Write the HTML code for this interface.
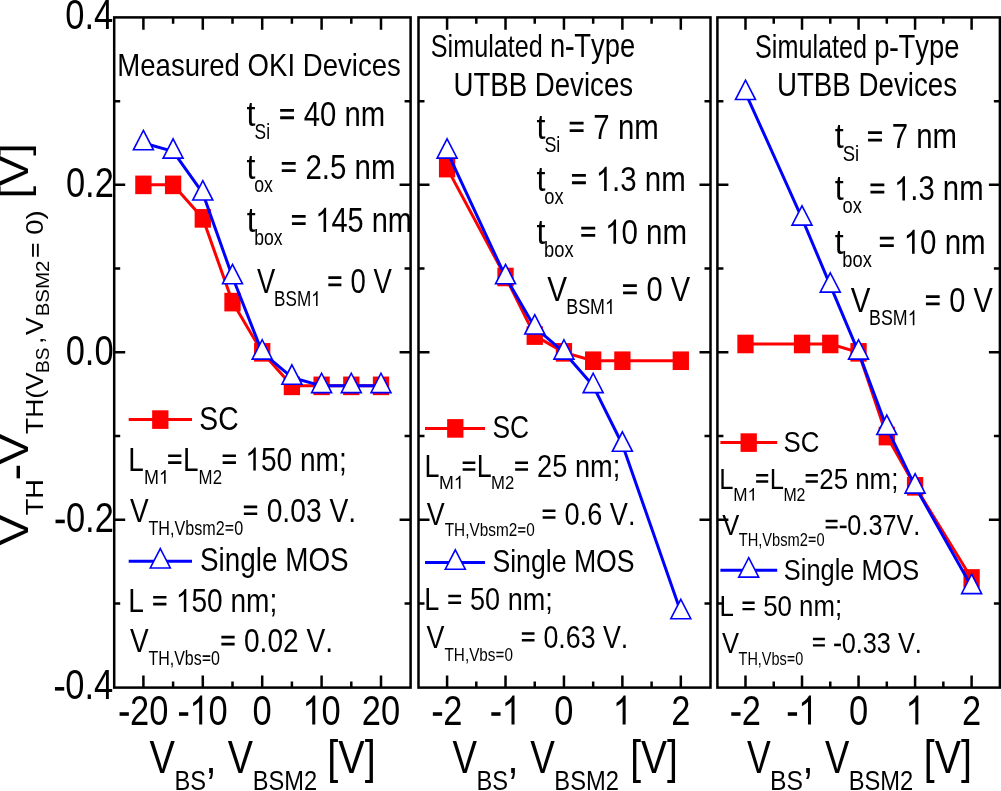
<!DOCTYPE html>
<html><head><meta charset="utf-8"><style>
html,body{margin:0;padding:0;background:#fff;}
svg{display:block;will-change:transform;}
text{font-family:"Liberation Sans", sans-serif;fill:#000;font-kerning:none;white-space:pre;}
</style></head><body>
<svg width="1001" height="791" viewBox="0 0 1001 791">
<rect width="1001" height="791" fill="#fff"/>
<rect x="114.20" y="17.40" width="296.40" height="670.20" fill="none" stroke="#000" stroke-width="2.50"/>
<path d="M143.40 17.40V29.80M143.40 687.60V675.60M202.80 17.40V29.80M202.80 687.60V675.60M262.20 17.40V29.80M262.20 687.60V675.60M321.60 17.40V29.80M321.60 687.60V675.60M381.00 17.40V29.80M381.00 687.60V675.60M173.10 17.40V23.80M173.10 687.60V681.60M232.50 17.40V23.80M232.50 687.60V681.60M291.90 17.40V23.80M291.90 687.60V681.60M351.30 17.40V23.80M351.30 687.60V681.60M114.20 184.87H125.20M410.60 184.87H399.60M114.20 352.35H125.20M410.60 352.35H399.60M114.20 519.83H125.20M410.60 519.83H399.60M114.20 101.13H120.20M410.60 101.13H404.60M114.20 268.61H120.20M410.60 268.61H404.60M114.20 436.09H120.20M410.60 436.09H404.60M114.20 603.57H120.20M410.60 603.57H404.60" stroke="#000" stroke-width="2.50" fill="none"/>
<rect x="418.50" y="17.40" width="292.00" height="670.20" fill="none" stroke="#000" stroke-width="2.50"/>
<path d="M447.09 17.40V29.80M447.09 687.60V675.60M505.52 17.40V29.80M505.52 687.60V675.60M563.95 17.40V29.80M563.95 687.60V675.60M622.38 17.40V29.80M622.38 687.60V675.60M680.81 17.40V29.80M680.81 687.60V675.60M476.31 17.40V23.80M476.31 687.60V681.60M534.74 17.40V23.80M534.74 687.60V681.60M593.17 17.40V23.80M593.17 687.60V681.60M651.60 17.40V23.80M651.60 687.60V681.60M418.50 184.87H429.50M710.50 184.87H699.50M418.50 352.35H429.50M710.50 352.35H699.50M418.50 519.83H429.50M710.50 519.83H699.50M418.50 101.13H424.50M710.50 101.13H704.50M418.50 268.61H424.50M710.50 268.61H704.50M418.50 436.09H424.50M710.50 436.09H704.50M418.50 603.57H424.50M710.50 603.57H704.50" stroke="#000" stroke-width="2.50" fill="none"/>
<rect x="717.40" y="17.40" width="282.50" height="670.20" fill="none" stroke="#000" stroke-width="2.50"/>
<path d="M745.49 17.40V29.80M745.49 687.60V675.60M802.02 17.40V29.80M802.02 687.60V675.60M858.55 17.40V29.80M858.55 687.60V675.60M915.08 17.40V29.80M915.08 687.60V675.60M971.61 17.40V29.80M971.61 687.60V675.60M773.75 17.40V23.80M773.75 687.60V681.60M830.28 17.40V23.80M830.28 687.60V681.60M886.81 17.40V23.80M886.81 687.60V681.60M943.34 17.40V23.80M943.34 687.60V681.60M717.40 184.87H728.40M999.90 184.87H988.90M717.40 352.35H728.40M999.90 352.35H988.90M717.40 519.83H728.40M999.90 519.83H988.90M717.40 101.13H723.40M999.90 101.13H993.90M717.40 268.61H723.40M999.90 268.61H993.90M717.40 436.09H723.40M999.90 436.09H993.90M717.40 603.57H723.40M999.90 603.57H993.90" stroke="#000" stroke-width="2.50" fill="none"/>
<polyline points="143.40,184.87 173.10,184.87 202.80,218.37 232.50,302.11 262.20,352.35 291.90,385.85 321.60,385.85 351.30,385.85 381.00,385.85" fill="none" stroke="#ff0000" stroke-width="3.00" stroke-linejoin="round"/>
<rect x="135.25" y="175.57" width="16.30" height="18.60" fill="#ff0000"/>
<rect x="164.95" y="175.57" width="16.30" height="18.60" fill="#ff0000"/>
<rect x="194.65" y="209.07" width="16.30" height="18.60" fill="#ff0000"/>
<rect x="224.35" y="292.81" width="16.30" height="18.60" fill="#ff0000"/>
<rect x="254.05" y="343.05" width="16.30" height="18.60" fill="#ff0000"/>
<rect x="283.75" y="376.55" width="16.30" height="18.60" fill="#ff0000"/>
<rect x="313.45" y="376.55" width="16.30" height="18.60" fill="#ff0000"/>
<rect x="343.15" y="376.55" width="16.30" height="18.60" fill="#ff0000"/>
<rect x="372.85" y="376.55" width="16.30" height="18.60" fill="#ff0000"/>
<polyline points="143.40,143.00 173.10,151.37 202.80,193.24 232.50,276.98 262.20,352.35 291.90,377.47 321.60,385.85 351.30,385.85 381.00,385.85" fill="none" stroke="#0000ff" stroke-width="3.00" stroke-linejoin="round"/>
<path d="M143.40 130.40L153.40 149.80L133.40 149.80Z" fill="#fff" stroke="#0000ff" stroke-width="1.6" stroke-linejoin="miter"/>
<path d="M173.10 138.77L183.10 158.17L163.10 158.17Z" fill="#fff" stroke="#0000ff" stroke-width="1.6" stroke-linejoin="miter"/>
<path d="M202.80 180.64L212.80 200.04L192.80 200.04Z" fill="#fff" stroke="#0000ff" stroke-width="1.6" stroke-linejoin="miter"/>
<path d="M232.50 264.38L242.50 283.78L222.50 283.78Z" fill="#fff" stroke="#0000ff" stroke-width="1.6" stroke-linejoin="miter"/>
<path d="M262.20 339.75L272.20 359.15L252.20 359.15Z" fill="#fff" stroke="#0000ff" stroke-width="1.6" stroke-linejoin="miter"/>
<path d="M291.90 364.87L301.90 384.27L281.90 384.27Z" fill="#fff" stroke="#0000ff" stroke-width="1.6" stroke-linejoin="miter"/>
<path d="M321.60 373.25L331.60 392.65L311.60 392.65Z" fill="#fff" stroke="#0000ff" stroke-width="1.6" stroke-linejoin="miter"/>
<path d="M351.30 373.25L361.30 392.65L341.30 392.65Z" fill="#fff" stroke="#0000ff" stroke-width="1.6" stroke-linejoin="miter"/>
<path d="M381.00 373.25L391.00 392.65L371.00 392.65Z" fill="#fff" stroke="#0000ff" stroke-width="1.6" stroke-linejoin="miter"/>
<polyline points="447.09,168.12 505.52,276.98 534.74,335.60 563.95,352.35 593.17,360.72 622.38,360.72 680.81,360.72" fill="none" stroke="#ff0000" stroke-width="3.00" stroke-linejoin="round"/>
<rect x="438.94" y="158.82" width="16.30" height="18.60" fill="#ff0000"/>
<rect x="497.37" y="267.68" width="16.30" height="18.60" fill="#ff0000"/>
<rect x="526.59" y="326.30" width="16.30" height="18.60" fill="#ff0000"/>
<rect x="555.80" y="343.05" width="16.30" height="18.60" fill="#ff0000"/>
<rect x="585.02" y="351.42" width="16.30" height="18.60" fill="#ff0000"/>
<rect x="614.23" y="351.42" width="16.30" height="18.60" fill="#ff0000"/>
<rect x="672.66" y="351.42" width="16.30" height="18.60" fill="#ff0000"/>
<polyline points="447.09,151.37 505.52,276.98 534.74,327.23 563.95,352.35 593.17,385.85 622.38,444.46 680.81,611.94" fill="none" stroke="#0000ff" stroke-width="3.00" stroke-linejoin="round"/>
<path d="M447.09 138.77L457.09 158.17L437.09 158.17Z" fill="#fff" stroke="#0000ff" stroke-width="1.6" stroke-linejoin="miter"/>
<path d="M505.52 264.38L515.52 283.78L495.52 283.78Z" fill="#fff" stroke="#0000ff" stroke-width="1.6" stroke-linejoin="miter"/>
<path d="M534.74 314.63L544.74 334.03L524.74 334.03Z" fill="#fff" stroke="#0000ff" stroke-width="1.6" stroke-linejoin="miter"/>
<path d="M563.95 339.75L573.95 359.15L553.95 359.15Z" fill="#fff" stroke="#0000ff" stroke-width="1.6" stroke-linejoin="miter"/>
<path d="M593.17 373.25L603.17 392.65L583.17 392.65Z" fill="#fff" stroke="#0000ff" stroke-width="1.6" stroke-linejoin="miter"/>
<path d="M622.38 431.86L632.38 451.26L612.38 451.26Z" fill="#fff" stroke="#0000ff" stroke-width="1.6" stroke-linejoin="miter"/>
<path d="M680.81 599.34L690.81 618.74L670.81 618.74Z" fill="#fff" stroke="#0000ff" stroke-width="1.6" stroke-linejoin="miter"/>
<polyline points="745.49,343.98 802.02,343.98 830.28,343.98 858.55,352.35 886.81,436.09 915.08,486.33 971.61,578.45" fill="none" stroke="#ff0000" stroke-width="3.00" stroke-linejoin="round"/>
<rect x="737.34" y="334.68" width="16.30" height="18.60" fill="#ff0000"/>
<rect x="793.87" y="334.68" width="16.30" height="18.60" fill="#ff0000"/>
<rect x="822.13" y="334.68" width="16.30" height="18.60" fill="#ff0000"/>
<rect x="850.40" y="343.05" width="16.30" height="18.60" fill="#ff0000"/>
<rect x="878.66" y="426.79" width="16.30" height="18.60" fill="#ff0000"/>
<rect x="906.93" y="477.03" width="16.30" height="18.60" fill="#ff0000"/>
<rect x="963.46" y="569.15" width="16.30" height="18.60" fill="#ff0000"/>
<polyline points="745.49,92.76 802.02,218.37 830.28,285.36 858.55,352.35 886.81,427.72 915.08,486.33 971.61,586.82" fill="none" stroke="#0000ff" stroke-width="3.00" stroke-linejoin="round"/>
<path d="M745.49 80.16L755.49 99.56L735.49 99.56Z" fill="#fff" stroke="#0000ff" stroke-width="1.6" stroke-linejoin="miter"/>
<path d="M802.02 205.77L812.02 225.17L792.02 225.17Z" fill="#fff" stroke="#0000ff" stroke-width="1.6" stroke-linejoin="miter"/>
<path d="M830.28 272.76L840.28 292.16L820.28 292.16Z" fill="#fff" stroke="#0000ff" stroke-width="1.6" stroke-linejoin="miter"/>
<path d="M858.55 339.75L868.55 359.15L848.55 359.15Z" fill="#fff" stroke="#0000ff" stroke-width="1.6" stroke-linejoin="miter"/>
<path d="M886.81 415.12L896.81 434.52L876.81 434.52Z" fill="#fff" stroke="#0000ff" stroke-width="1.6" stroke-linejoin="miter"/>
<path d="M915.08 473.73L925.08 493.13L905.08 493.13Z" fill="#fff" stroke="#0000ff" stroke-width="1.6" stroke-linejoin="miter"/>
<path d="M971.61 574.22L981.61 593.62L961.61 593.62Z" fill="#fff" stroke="#0000ff" stroke-width="1.6" stroke-linejoin="miter"/>
<path d="M128.70 419.60H192.00" stroke="#ff0000" stroke-width="3.00"/>
<rect x="152.15" y="410.30" width="16.30" height="18.60" fill="#ff0000"/>
<path d="M128.70 561.20H192.00" stroke="#0000ff" stroke-width="3.00"/>
<path d="M160.30 548.60L170.30 568.00L150.30 568.00Z" fill="#fff" stroke="#0000ff" stroke-width="1.6" stroke-linejoin="miter"/>
<path d="M425.00 428.40H485.00" stroke="#ff0000" stroke-width="3.00"/>
<rect x="447.15" y="419.10" width="16.30" height="18.60" fill="#ff0000"/>
<path d="M425.00 562.40H485.00" stroke="#0000ff" stroke-width="3.00"/>
<path d="M455.30 549.80L465.30 569.20L445.30 569.20Z" fill="#fff" stroke="#0000ff" stroke-width="1.6" stroke-linejoin="miter"/>
<path d="M720.40 442.60H777.20" stroke="#ff0000" stroke-width="3.00"/>
<rect x="740.55" y="433.30" width="16.30" height="18.60" fill="#ff0000"/>
<path d="M720.40 570.30H777.20" stroke="#0000ff" stroke-width="3.00"/>
<path d="M748.70 557.70L758.70 577.10L738.70 577.10Z" fill="#fff" stroke="#0000ff" stroke-width="1.6" stroke-linejoin="miter"/>
<g transform="translate(117.30 76.00) scale(0.8568 1)"><text x="0.00" y="0" font-size="32.20">Measured OKI Devices</text></g>
<g transform="translate(246.56 126.00) scale(0.9200 1)"><text x="0.00" y="0" font-size="35.10">t</text></g>
<g transform="translate(254.58 139.30) scale(0.7964 1)"><text x="0.00" y="0" font-size="21.80">Si</text></g>
<g transform="translate(278.54 126.00) scale(0.8341 1)"><path transform="translate(0.00 0) scale(0.01714 -0.01647)" d="M1082 862V1030H113V862ZM1082 417V585H113V417Z"/><text x="20.50" y="0" font-size="35.10"> 40 nm</text></g>
<g transform="translate(246.56 178.90) scale(0.9200 1)"><text x="0.00" y="0" font-size="35.10">t</text></g>
<g transform="translate(254.16 191.60) scale(0.8119 1)"><text x="0.00" y="0" font-size="21.80">ox</text></g>
<g transform="translate(280.13 178.90) scale(0.8386 1)"><path transform="translate(0.00 0) scale(0.01714 -0.01647)" d="M1082 862V1030H113V862ZM1082 417V585H113V417Z"/><text x="20.50" y="0" font-size="35.10"> 2.5 nm</text></g>
<g transform="translate(246.76 231.90) scale(0.9200 1)"><text x="0.00" y="0" font-size="35.10">t</text></g>
<g transform="translate(254.33 244.60) scale(0.8047 1)"><text x="0.00" y="0" font-size="21.80">box</text></g>
<g transform="translate(290.35 231.90) scale(0.8250 1)"><path transform="translate(0.00 0) scale(0.01714 -0.01647)" d="M1082 862V1030H113V862ZM1082 417V585H113V417Z"/><text x="20.50" y="0" font-size="35.10"> </text><path transform="translate(30.25 0) scale(0.01714 -0.01647)" d="M763 0H583V1147Q518 1085 412 1023Q306 961 222 930V1104Q373 1175 486 1276Q599 1377 646 1466H763Z"/><text x="49.77" y="0" font-size="35.10">45 nm</text></g>
<g transform="translate(256.90 293.20) scale(0.7778 1)"><text x="0.00" y="0" font-size="35.10">V</text></g>
<g transform="translate(274.07 306.00) scale(0.7856 1)"><text x="0.00" y="0" font-size="21.80">BSM</text><path transform="translate(47.24 0) scale(0.01064 -0.01023)" d="M763 0H583V1147Q518 1085 412 1023Q306 961 222 930V1104Q373 1175 486 1276Q599 1377 646 1466H763Z"/></g>
<g transform="translate(326.82 293.20) scale(0.7850 1)"><path transform="translate(0.00 0) scale(0.01714 -0.01647)" d="M1082 862V1030H113V862ZM1082 417V585H113V417Z"/><text x="20.50" y="0" font-size="35.10"> 0 V</text></g>
<g transform="translate(199.32 430.00) scale(0.8493 1)"><text x="0.00" y="0" font-size="33.30">SC</text></g>
<g transform="translate(128.17 470.50) scale(0.8400 1)"><text x="0.00" y="0" font-size="33.30">L</text></g>
<g transform="translate(144.00 483.70) scale(0.9068 1)"><text x="0.00" y="0" font-size="19.80">M</text><path transform="translate(16.49 0) scale(0.00967 -0.00929)" d="M763 0H583V1147Q518 1085 412 1023Q306 961 222 930V1104Q373 1175 486 1276Q599 1377 646 1466H763Z"/></g>
<g transform="translate(166.60 470.50) scale(0.8400 1)"><path transform="translate(0.00 0) scale(0.01626 -0.01563)" d="M1082 862V1030H113V862ZM1082 417V585H113V417Z"/><text x="19.45" y="0" font-size="33.30">L</text></g>
<g transform="translate(198.60 483.70) scale(0.8509 1)"><text x="0.00" y="0" font-size="19.80">M2</text></g>
<g transform="translate(221.10 470.50) scale(0.8438 1)"><path transform="translate(0.00 0) scale(0.01626 -0.01563)" d="M1082 862V1030H113V862ZM1082 417V585H113V417Z"/><text x="19.45" y="0" font-size="33.30"> </text><path transform="translate(28.70 0) scale(0.01626 -0.01563)" d="M763 0H583V1147Q518 1085 412 1023Q306 961 222 930V1104Q373 1175 486 1276Q599 1377 646 1466H763Z"/><text x="47.22" y="0" font-size="33.30">50 nm;</text></g>
<g transform="translate(130.00 521.60) scale(0.8400 1)"><text x="0.00" y="0" font-size="33.30">V</text></g>
<g transform="translate(148.43 534.60) scale(0.8156 1)"><text x="0.00" y="0" font-size="19.80">TH,Vbsm2</text><path transform="translate(93.52 0) scale(0.00967 -0.00929)" d="M1082 862V1030H113V862ZM1082 417V585H113V417Z"/><text x="105.08" y="0" font-size="19.80">0</text></g>
<g transform="translate(242.29 521.60) scale(0.8488 1)"><path transform="translate(0.00 0) scale(0.01626 -0.01563)" d="M1082 862V1030H113V862ZM1082 417V585H113V417Z"/><text x="19.45" y="0" font-size="33.30"> 0.03 V.</text></g>
<g transform="translate(200.04 571.20) scale(0.8368 1)"><text x="0.00" y="0" font-size="33.30">Single MOS</text></g>
<g transform="translate(128.16 612.00) scale(0.8440 1)"><text x="0.00" y="0" font-size="33.30">L </text><path transform="translate(27.77 0) scale(0.01626 -0.01563)" d="M1082 862V1030H113V862ZM1082 417V585H113V417Z"/><text x="47.22" y="0" font-size="33.30"> </text><path transform="translate(56.47 0) scale(0.01626 -0.01563)" d="M763 0H583V1147Q518 1085 412 1023Q306 961 222 930V1104Q373 1175 486 1276Q599 1377 646 1466H763Z"/><text x="74.99" y="0" font-size="33.30">50 nm;</text></g>
<g transform="translate(130.00 651.90) scale(0.8400 1)"><text x="0.00" y="0" font-size="33.30">V</text></g>
<g transform="translate(148.43 664.90) scale(0.8081 1)"><text x="0.00" y="0" font-size="19.80">TH,Vbs</text><path transform="translate(66.01 0) scale(0.00967 -0.00929)" d="M1082 862V1030H113V862ZM1082 417V585H113V417Z"/><text x="77.58" y="0" font-size="19.80">0</text></g>
<g transform="translate(219.80 651.90) scale(0.8434 1)"><path transform="translate(0.00 0) scale(0.01626 -0.01563)" d="M1082 862V1030H113V862ZM1082 417V585H113V417Z"/><text x="19.45" y="0" font-size="33.30"> 0.02 V.</text></g>
<g transform="translate(430.75 56.60) scale(0.7808 1)"><text x="0.00" y="0" font-size="32.30">Simulated</text></g>
<g transform="translate(549.98 56.60) scale(0.8473 1)"><text x="0.00" y="0" font-size="32.30">n</text><path transform="translate(17.96 0) scale(0.01577 -0.01516)" d="M66 442V623H616V442Z"/><text x="28.72" y="0" font-size="32.30">Type</text></g>
<g transform="translate(453.43 95.70) scale(0.8559 1)"><text x="0.00" y="0" font-size="32.30">UTBB Devices</text></g>
<g transform="translate(536.56 138.80) scale(0.9200 1)"><text x="0.00" y="0" font-size="35.10">t</text></g>
<g transform="translate(544.46 151.80) scale(0.8198 1)"><text x="0.00" y="0" font-size="21.80">Si</text></g>
<g transform="translate(568.03 138.80) scale(0.8379 1)"><path transform="translate(0.00 0) scale(0.01714 -0.01647)" d="M1082 862V1030H113V862ZM1082 417V585H113V417Z"/><text x="20.50" y="0" font-size="35.10"> 7 nm</text></g>
<g transform="translate(536.56 191.00) scale(0.9200 1)"><text x="0.00" y="0" font-size="35.10">t</text></g>
<g transform="translate(544.24 204.00) scale(0.8400 1)"><text x="0.00" y="0" font-size="21.80">ox</text></g>
<g transform="translate(570.33 191.00) scale(0.8394 1)"><path transform="translate(0.00 0) scale(0.01714 -0.01647)" d="M1082 862V1030H113V862ZM1082 417V585H113V417Z"/><text x="20.50" y="0" font-size="35.10"> </text><path transform="translate(30.25 0) scale(0.01714 -0.01647)" d="M763 0H583V1147Q518 1085 412 1023Q306 961 222 930V1104Q373 1175 486 1276Q599 1377 646 1466H763Z"/><text x="49.77" y="0" font-size="35.10">.3 nm</text></g>
<g transform="translate(536.56 243.70) scale(0.9200 1)"><text x="0.00" y="0" font-size="35.10">t</text></g>
<g transform="translate(544.08 257.20) scale(0.8400 1)"><text x="0.00" y="0" font-size="21.80">box</text></g>
<g transform="translate(579.62 243.70) scale(0.8406 1)"><path transform="translate(0.00 0) scale(0.01714 -0.01647)" d="M1082 862V1030H113V862ZM1082 417V585H113V417Z"/><text x="20.50" y="0" font-size="35.10"> </text><path transform="translate(30.25 0) scale(0.01714 -0.01647)" d="M763 0H583V1147Q518 1085 412 1023Q306 961 222 930V1104Q373 1175 486 1276Q599 1377 646 1466H763Z"/><text x="49.77" y="0" font-size="35.10">0 nm</text></g>
<g transform="translate(547.30 301.20) scale(0.8462 1)"><text x="0.00" y="0" font-size="35.10">V</text></g>
<g transform="translate(566.21 314.00) scale(0.8210 1)"><text x="0.00" y="0" font-size="21.80">BSM</text><path transform="translate(47.24 0) scale(0.01064 -0.01023)" d="M763 0H583V1147Q518 1085 412 1023Q306 961 222 930V1104Q373 1175 486 1276Q599 1377 646 1466H763Z"/></g>
<g transform="translate(621.45 301.20) scale(0.8282 1)"><path transform="translate(0.00 0) scale(0.01714 -0.01647)" d="M1082 862V1030H113V862ZM1082 417V585H113V417Z"/><text x="20.50" y="0" font-size="35.10"> 0 V</text></g>
<g transform="translate(492.40 438.00) scale(0.8240 1)"><text x="0.00" y="0" font-size="32.00">SC</text></g>
<g transform="translate(424.46 477.00) scale(0.8400 1)"><text x="0.00" y="0" font-size="32.00">L</text></g>
<g transform="translate(439.02 488.70) scale(0.9507 1)"><text x="0.00" y="0" font-size="18.70">M</text><path transform="translate(15.58 0) scale(0.00913 -0.00877)" d="M763 0H583V1147Q518 1085 412 1023Q306 961 222 930V1104Q373 1175 486 1276Q599 1377 646 1466H763Z"/></g>
<g transform="translate(461.16 477.00) scale(0.8400 1)"><path transform="translate(0.00 0) scale(0.01562 -0.01502)" d="M1082 862V1030H113V862ZM1082 417V585H113V417Z"/><text x="18.69" y="0" font-size="32.00">L</text></g>
<g transform="translate(491.11 488.70) scale(0.8924 1)"><text x="0.00" y="0" font-size="18.70">M2</text></g>
<g transform="translate(513.64 477.00) scale(0.8508 1)"><path transform="translate(0.00 0) scale(0.01562 -0.01502)" d="M1082 862V1030H113V862ZM1082 417V585H113V417Z"/><text x="18.69" y="0" font-size="32.00"> 25 nm;</text></g>
<g transform="translate(426.70 525.00) scale(0.8400 1)"><text x="0.00" y="0" font-size="32.00">V</text></g>
<g transform="translate(444.74 536.20) scale(0.8212 1)"><text x="0.00" y="0" font-size="18.70">TH,Vbsm2</text><path transform="translate(88.32 0) scale(0.00913 -0.00877)" d="M1082 862V1030H113V862ZM1082 417V585H113V417Z"/><text x="99.24" y="0" font-size="18.70">0</text></g>
<g transform="translate(541.14 525.00) scale(0.8484 1)"><path transform="translate(0.00 0) scale(0.01562 -0.01502)" d="M1082 862V1030H113V862ZM1082 417V585H113V417Z"/><text x="18.69" y="0" font-size="32.00"> 0.6 V.</text></g>
<g transform="translate(492.39 572.30) scale(0.8333 1)"><text x="0.00" y="0" font-size="32.00">Single MOS</text></g>
<g transform="translate(424.25 610.30) scale(0.8448 1)"><text x="0.00" y="0" font-size="32.00">L </text><path transform="translate(26.69 0) scale(0.01562 -0.01502)" d="M1082 862V1030H113V862ZM1082 417V585H113V417Z"/><text x="45.38" y="0" font-size="32.00"> 50 nm;</text></g>
<g transform="translate(426.50 647.80) scale(0.8400 1)"><text x="0.00" y="0" font-size="32.00">V</text></g>
<g transform="translate(444.55 660.80) scale(0.8169 1)"><text x="0.00" y="0" font-size="18.70">TH,Vbs</text><path transform="translate(62.35 0) scale(0.00913 -0.00877)" d="M1082 862V1030H113V862ZM1082 417V585H113V417Z"/><text x="73.27" y="0" font-size="18.70">0</text></g>
<g transform="translate(520.36 647.80) scale(0.8367 1)"><path transform="translate(0.00 0) scale(0.01562 -0.01502)" d="M1082 862V1030H113V862ZM1082 417V585H113V417Z"/><text x="18.69" y="0" font-size="32.00"> 0.63 V.</text></g>
<g transform="translate(755.05 57.70) scale(0.7801 1)"><text x="0.00" y="0" font-size="32.30">Simulated</text></g>
<g transform="translate(874.17 57.70) scale(0.8483 1)"><text x="0.00" y="0" font-size="32.30">p</text><path transform="translate(17.96 0) scale(0.01577 -0.01516)" d="M66 442V623H616V442Z"/><text x="28.72" y="0" font-size="32.30">Type</text></g>
<g transform="translate(776.92 95.60) scale(0.8578 1)"><text x="0.00" y="0" font-size="32.30">UTBB Devices</text></g>
<g transform="translate(834.86 148.30) scale(0.9200 1)"><text x="0.00" y="0" font-size="35.10">t</text></g>
<g transform="translate(842.73 161.30) scale(0.8491 1)"><text x="0.00" y="0" font-size="21.80">Si</text></g>
<g transform="translate(866.43 148.30) scale(0.8370 1)"><path transform="translate(0.00 0) scale(0.01714 -0.01647)" d="M1082 862V1030H113V862ZM1082 417V585H113V417Z"/><text x="20.50" y="0" font-size="35.10"> 7 nm</text></g>
<g transform="translate(834.86 200.40) scale(0.9200 1)"><text x="0.00" y="0" font-size="35.10">t</text></g>
<g transform="translate(842.54 213.40) scale(0.8400 1)"><text x="0.00" y="0" font-size="21.80">ox</text></g>
<g transform="translate(868.84 200.40) scale(0.8341 1)"><path transform="translate(0.00 0) scale(0.01714 -0.01647)" d="M1082 862V1030H113V862ZM1082 417V585H113V417Z"/><text x="20.50" y="0" font-size="35.10"> </text><path transform="translate(30.25 0) scale(0.01714 -0.01647)" d="M763 0H583V1147Q518 1085 412 1023Q306 961 222 930V1104Q373 1175 486 1276Q599 1377 646 1466H763Z"/><text x="49.77" y="0" font-size="35.10">.3 nm</text></g>
<g transform="translate(834.86 253.80) scale(0.9200 1)"><text x="0.00" y="0" font-size="35.10">t</text></g>
<g transform="translate(842.28 267.20) scale(0.8400 1)"><text x="0.00" y="0" font-size="21.80">box</text></g>
<g transform="translate(878.22 253.80) scale(0.8406 1)"><path transform="translate(0.00 0) scale(0.01714 -0.01647)" d="M1082 862V1030H113V862ZM1082 417V585H113V417Z"/><text x="20.50" y="0" font-size="35.10"> </text><path transform="translate(30.25 0) scale(0.01714 -0.01647)" d="M763 0H583V1147Q518 1085 412 1023Q306 961 222 930V1104Q373 1175 486 1276Q599 1377 646 1466H763Z"/><text x="49.77" y="0" font-size="35.10">0 nm</text></g>
<g transform="translate(850.70 312.20) scale(0.8400 1)"><text x="0.00" y="0" font-size="35.10">V</text></g>
<g transform="translate(869.12 325.20) scale(0.8173 1)"><text x="0.00" y="0" font-size="21.80">BSM</text><path transform="translate(47.24 0) scale(0.01064 -0.01023)" d="M763 0H583V1147Q518 1085 412 1023Q306 961 222 930V1104Q373 1175 486 1276Q599 1377 646 1466H763Z"/></g>
<g transform="translate(924.35 312.20) scale(0.8257 1)"><path transform="translate(0.00 0) scale(0.01714 -0.01647)" d="M1082 862V1030H113V862ZM1082 417V585H113V417Z"/><text x="20.50" y="0" font-size="35.10"> 0 V</text></g>
<g transform="translate(783.62 452.00) scale(0.8498 1)"><text x="0.00" y="0" font-size="30.40">SC</text></g>
<g transform="translate(719.37 488.70) scale(0.8400 1)"><text x="0.00" y="0" font-size="30.40">L</text></g>
<g transform="translate(733.27 500.50) scale(0.9531 1)"><text x="0.00" y="0" font-size="18.00">M</text><path transform="translate(14.99 0) scale(0.00879 -0.00845)" d="M763 0H583V1147Q518 1085 412 1023Q306 961 222 930V1104Q373 1175 486 1276Q599 1377 646 1466H763Z"/></g>
<g transform="translate(754.72 488.70) scale(0.8400 1)"><path transform="translate(0.00 0) scale(0.01484 -0.01426)" d="M1082 862V1030H113V862ZM1082 417V585H113V417Z"/><text x="17.75" y="0" font-size="30.40">L</text></g>
<g transform="translate(783.38 500.50) scale(0.8830 1)"><text x="0.00" y="0" font-size="18.00">M2</text></g>
<g transform="translate(804.21 488.70) scale(0.8506 1)"><path transform="translate(0.00 0) scale(0.01484 -0.01426)" d="M1082 862V1030H113V862ZM1082 417V585H113V417Z"/><text x="17.75" y="0" font-size="30.40">25 nm;</text></g>
<g transform="translate(722.20 534.50) scale(0.8400 1)"><text x="0.00" y="0" font-size="30.40">V</text></g>
<g transform="translate(738.76 545.50) scale(0.8130 1)"><text x="0.00" y="0" font-size="18.00">TH,Vbsm2</text><path transform="translate(85.02 0) scale(0.00879 -0.00845)" d="M1082 862V1030H113V862ZM1082 417V585H113V417Z"/><text x="95.53" y="0" font-size="18.00">0</text></g>
<g transform="translate(824.24 534.50) scale(0.8298 1)"><path transform="translate(0.00 0) scale(0.01484 -0.01426)" d="M1082 862V1030H113V862ZM1082 417V585H113V417Z"/><path transform="translate(17.75 0) scale(0.01484 -0.01426)" d="M66 442V623H616V442Z"/><text x="27.88" y="0" font-size="30.40">0.37V.</text></g>
<g transform="translate(783.84 580.30) scale(0.8352 1)"><text x="0.00" y="0" font-size="30.40">Single MOS</text></g>
<g transform="translate(719.55 616.30) scale(0.8483 1)"><text x="0.00" y="0" font-size="30.40">L </text><path transform="translate(25.35 0) scale(0.01484 -0.01426)" d="M1082 862V1030H113V862ZM1082 417V585H113V417Z"/><text x="43.11" y="0" font-size="30.40"> 50 nm;</text></g>
<g transform="translate(722.00 652.50) scale(0.8400 1)"><text x="0.00" y="0" font-size="30.40">V</text></g>
<g transform="translate(738.56 664.70) scale(0.8035 1)"><text x="0.00" y="0" font-size="18.00">TH,Vbs</text><path transform="translate(60.01 0) scale(0.00879 -0.00845)" d="M1082 862V1030H113V862ZM1082 417V585H113V417Z"/><text x="70.52" y="0" font-size="18.00">0</text></g>
<g transform="translate(811.54 652.50) scale(0.8315 1)"><path transform="translate(0.00 0) scale(0.01484 -0.01426)" d="M1082 862V1030H113V862ZM1082 417V585H113V417Z"/><text x="17.75" y="0" font-size="30.40"> </text><path transform="translate(26.20 0) scale(0.01484 -0.01426)" d="M66 442V623H616V442Z"/><text x="36.32" y="0" font-size="30.40">0.33 V.</text></g>
<g transform="translate(65.34 29.30) scale(0.8155 1)"><text x="0.00" y="0" font-size="42.30">0.4</text></g>
<g transform="translate(65.92 196.90) scale(0.8155 1)"><text x="0.00" y="0" font-size="42.30">0.2</text></g>
<g transform="translate(65.63 364.60) scale(0.8155 1)"><text x="0.00" y="0" font-size="42.30">0.0</text></g>
<g transform="translate(54.42 532.00) scale(0.8155 1)"><path transform="translate(0.00 0) scale(0.02065 -0.01985)" d="M66 442V623H616V442Z"/><text x="14.09" y="0" font-size="42.30">0.2</text></g>
<g transform="translate(53.84 699.40) scale(0.8155 1)"><path transform="translate(0.00 0) scale(0.02065 -0.01985)" d="M66 442V623H616V442Z"/><text x="14.09" y="0" font-size="42.30">0.4</text></g>
<g transform="translate(118.47 724.60) scale(0.8155 1)"><path transform="translate(0.00 0) scale(0.02065 -0.01985)" d="M66 442V623H616V442Z"/><text x="14.09" y="0" font-size="42.30">20</text></g>
<g transform="translate(177.87 724.60) scale(0.8155 1)"><path transform="translate(0.00 0) scale(0.02065 -0.01985)" d="M66 442V623H616V442Z"/><path transform="translate(14.09 0) scale(0.02065 -0.01985)" d="M763 0H583V1147Q518 1085 412 1023Q306 961 222 930V1104Q373 1175 486 1276Q599 1377 646 1466H763Z"/><text x="37.61" y="0" font-size="42.30">0</text></g>
<g transform="translate(252.61 724.60) scale(0.8155 1)"><text x="0.00" y="0" font-size="42.30">0</text></g>
<g transform="translate(302.42 724.60) scale(0.8155 1)"><path transform="translate(0.00 0) scale(0.02065 -0.01985)" d="M763 0H583V1147Q518 1085 412 1023Q306 961 222 930V1104Q373 1175 486 1276Q599 1377 646 1466H763Z"/><text x="23.53" y="0" font-size="42.30">0</text></g>
<g transform="translate(361.82 724.60) scale(0.8155 1)"><text x="0.00" y="0" font-size="42.30">20</text></g>
<g transform="translate(431.75 724.60) scale(0.8155 1)"><path transform="translate(0.00 0) scale(0.02065 -0.01985)" d="M66 442V623H616V442Z"/><text x="14.09" y="0" font-size="42.30">2</text></g>
<g transform="translate(490.18 724.60) scale(0.8155 1)"><path transform="translate(0.00 0) scale(0.02065 -0.01985)" d="M66 442V623H616V442Z"/><path transform="translate(14.09 0) scale(0.02065 -0.01985)" d="M763 0H583V1147Q518 1085 412 1023Q306 961 222 930V1104Q373 1175 486 1276Q599 1377 646 1466H763Z"/></g>
<g transform="translate(554.36 724.60) scale(0.8155 1)"><text x="0.00" y="0" font-size="42.30">0</text></g>
<g transform="translate(612.79 724.60) scale(0.8155 1)"><path transform="translate(0.00 0) scale(0.02065 -0.01985)" d="M763 0H583V1147Q518 1085 412 1023Q306 961 222 930V1104Q373 1175 486 1276Q599 1377 646 1466H763Z"/></g>
<g transform="translate(671.22 724.60) scale(0.8155 1)"><text x="0.00" y="0" font-size="42.30">2</text></g>
<g transform="translate(730.15 724.60) scale(0.8155 1)"><path transform="translate(0.00 0) scale(0.02065 -0.01985)" d="M66 442V623H616V442Z"/><text x="14.09" y="0" font-size="42.30">2</text></g>
<g transform="translate(786.68 724.60) scale(0.8155 1)"><path transform="translate(0.00 0) scale(0.02065 -0.01985)" d="M66 442V623H616V442Z"/><path transform="translate(14.09 0) scale(0.02065 -0.01985)" d="M763 0H583V1147Q518 1085 412 1023Q306 961 222 930V1104Q373 1175 486 1276Q599 1377 646 1466H763Z"/></g>
<g transform="translate(848.96 724.60) scale(0.8155 1)"><text x="0.00" y="0" font-size="42.30">0</text></g>
<g transform="translate(905.49 724.60) scale(0.8155 1)"><path transform="translate(0.00 0) scale(0.02065 -0.01985)" d="M763 0H583V1147Q518 1085 412 1023Q306 961 222 930V1104Q373 1175 486 1276Q599 1377 646 1466H763Z"/></g>
<g transform="translate(962.02 724.60) scale(0.8155 1)"><text x="0.00" y="0" font-size="42.30">2</text></g>
<g transform="translate(149.60 772.50) scale(0.8106 1)"><text x="0.00" y="0" font-size="47.00">V</text></g>
<g transform="translate(174.43 789.50) scale(0.8766 1)"><text x="0.00" y="0" font-size="27.00">BS</text></g>
<g transform="translate(205.38 772.50) scale(0.8400 1)"><text x="0.00" y="0" font-size="47.00">,</text></g>
<g transform="translate(227.70 772.50) scale(0.8043 1)"><text x="0.00" y="0" font-size="47.00">V</text></g>
<g transform="translate(252.73 789.50) scale(0.8760 1)"><text x="0.00" y="0" font-size="27.00">BSM2</text></g>
<g transform="translate(327.36 772.50) scale(0.8420 1)"><text x="0.00" y="0" font-size="47.00">[V]</text></g>
<g transform="translate(452.40 772.50) scale(0.7819 1)"><text x="0.00" y="0" font-size="47.00">V</text></g>
<g transform="translate(476.43 789.50) scale(0.8766 1)"><text x="0.00" y="0" font-size="27.00">BS</text></g>
<g transform="translate(507.38 772.50) scale(0.8400 1)"><text x="0.00" y="0" font-size="47.00">,</text></g>
<g transform="translate(530.30 772.50) scale(0.7851 1)"><text x="0.00" y="0" font-size="47.00">V</text></g>
<g transform="translate(554.32 789.50) scale(0.8789 1)"><text x="0.00" y="0" font-size="27.00">BSM2</text></g>
<g transform="translate(630.20 772.50) scale(0.8283 1)"><text x="0.00" y="0" font-size="47.00">[V]</text></g>
<g transform="translate(747.00 772.50) scale(0.7564 1)"><text x="0.00" y="0" font-size="47.00">V</text></g>
<g transform="translate(770.04 789.50) scale(0.9165 1)"><text x="0.00" y="0" font-size="27.00">BS</text></g>
<g transform="translate(802.38 772.50) scale(0.8400 1)"><text x="0.00" y="0" font-size="47.00">,</text></g>
<g transform="translate(825.00 772.50) scale(0.7755 1)"><text x="0.00" y="0" font-size="47.00">V</text></g>
<g transform="translate(848.73 789.50) scale(0.8775 1)"><text x="0.00" y="0" font-size="27.00">BSM2</text></g>
<g transform="translate(923.78 772.50) scale(0.8361 1)"><text x="0.00" y="0" font-size="47.00">[V]</text></g>
<g transform="translate(28.40 545.40) scale(0.8550 0.9747) rotate(-90)"><text x="0.00" y="0" font-size="47.40">V</text></g>
<g transform="translate(43.30 515.35) scale(0.8550 0.9986) rotate(-90)"><text x="0.00" y="0" font-size="27.20">TH</text></g>
<g transform="translate(28.40 479.86) scale(0.8550 0.9889) rotate(-90)"><path transform="translate(0.00 0) scale(0.02314 -0.02224)" d="M66 442V623H616V442Z"/></g>
<g transform="translate(28.40 464.60) scale(0.8550 0.9715) rotate(-90)"><text x="0.00" y="0" font-size="47.40">V</text></g>
<g transform="translate(43.30 433.94) scale(0.8550 0.9696) rotate(-90)"><text x="0.00" y="0" font-size="27.20">TH(V</text></g>
<g transform="translate(48.70 373.09) scale(0.8550 0.8892) rotate(-90)"><text x="0.00" y="0" font-size="21.50">BS</text></g>
<g transform="translate(43.30 343.89) scale(0.8550 1.0000) rotate(-90)"><text x="0.00" y="0" font-size="27.20">,</text></g>
<g transform="translate(43.30 335.10) scale(0.8550 0.9761) rotate(-90)"><text x="0.00" y="0" font-size="27.20">V</text></g>
<g transform="translate(48.70 316.31) scale(0.8550 0.9530) rotate(-90)"><text x="0.00" y="0" font-size="21.50">BSM2</text></g>
<g transform="translate(43.30 258.37) scale(0.8550 1.0100) rotate(-90)"><path transform="translate(0.00 0) scale(0.01328 -0.01276)" d="M1082 862V1030H113V862ZM1082 417V585H113V417Z"/><text x="15.88" y="0" font-size="27.20"> 0)</text></g>
<g transform="translate(28.40 198.62) scale(0.8550 0.9566) rotate(-90)"><text x="0.00" y="0" font-size="47.40">[V]</text></g>
</svg>
</body></html>
